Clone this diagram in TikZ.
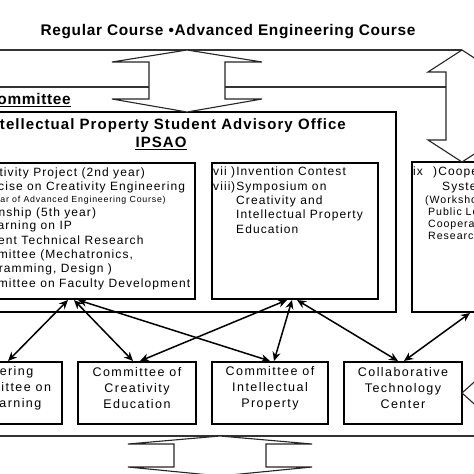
\documentclass[tikz,border=0pt]{standalone}
\usepackage{fontspec}
\setmainfont{Liberation Sans}
\newfontfamily\hdfont[LetterSpace=4.5]{Liberation Sans}
\newfontfamily\ipfont[LetterSpace=7]{Liberation Sans}
\newfontfamily\txfont[LetterSpace=9]{Liberation Sans}
\newfontfamily\bxfont[LetterSpace=11.5]{Liberation Sans}
\usetikzlibrary{arrows.meta,calc}
\tikzset{
  frameline/.style={draw=black!80,line width=1.1pt},
  boxnode/.style={draw=black,line width=1.4pt,rectangle,inner sep=0pt,outer sep=0pt},
  blockarrow/.style={draw=black!85,line width=1.1pt,fill=white,line join=miter},
  link/.style={line width=1.5pt,{Stealth[length=9pt,width=8pt]}-{Stealth[length=9pt,width=8pt]}},
  headtxt/.style={inner sep=0pt,font=\hdfont\bfseries\fontsize{15.4}{18}\selectfont},
  iptxt/.style={inner sep=0pt,font=\ipfont\bfseries\fontsize{15}{18}\selectfont},
  txt/.style={anchor=base west,inner sep=0pt,font=\txfont\fontsize{12}{14}\selectfont},
  smalltxt/.style={anchor=base west,inner sep=0pt,font=\txfont\fontsize{8.8}{10}\selectfont},
  rsmall/.style={anchor=base west,inner sep=0pt,font=\txfont\fontsize{10.6}{12}\selectfont},
  bottxt/.style={inner sep=0pt,align=center,font=\bxfont\fontsize{12.5}{16}\selectfont},
  uline/.style={line width=1.3pt}
}
\begin{document}
\begin{tikzpicture}[x=1pt,y=-1pt]
\useasboundingbox (0,0) rectangle (474,474);
\clip (0,0) rectangle (474,474);
\fill[white] (0,0) rectangle (474,474);

% frame lines
\draw[frameline] (-5,50) -- (462,50);
\draw[frameline] (-5,87) -- (149,87);
\draw[frameline] (225,87) -- (446,87);
\draw[frameline] (-5,436) -- (480,436);

% title
\node[headtxt,anchor=base] (title) at (228,35) {Regular Course •Advanced Engineering Course};

% committee label
\node[headtxt,anchor=base east] (com) at (71,104) {Steering Committee};
\draw[uline] ([yshift=-2.5pt]com.base west) -- ([yshift=-2.5pt]com.base east);

% IPSAO big box
\node[boxnode,minimum width=426pt,minimum height=200pt] (ipbox) at (183,212) {};
\node[iptxt,anchor=base east] (iptitle) at (346,129) {Intellectual Property Student Advisory Office};
\node[iptxt,anchor=base] (ipsao) at (161,147) {IPSAO};
\draw[uline] ([yshift=-2.5pt]ipsao.base west) -- ([yshift=-2.5pt]ipsao.base east);

% inner boxes
\node[boxnode,minimum width=245pt,minimum height=136pt] (lbox) at (72.5,231) {};
\node[boxnode,minimum width=166pt,minimum height=136pt] (mbox) at (295,231) {};
\node[boxnode,minimum width=130pt,minimum height=150pt] (rbox) at (477,237) {};

% left box text
\node[txt] (l1) at (-31,176) {\llap{i )}Creativity Project (2nd year)};
\node[txt] (l2) at (-31,190) {\llap{ii )}Exercise on Creativity Engineering};
\node[smalltxt] (l3) at (-31,202) {(1st year of Advanced Engineering Course)};
\node[txt] (l4) at (-31,216) {\llap{iii )}Internship (5th year)};
\node[txt] (l5) at (-31,229) {\llap{iv )}e-Learning on IP};
\node[txt] (l6) at (-31,244) {\llap{v )}Student Technical Research};
\node[txt] (l7) at (-31,258) {Committee (Mechatronics,};
\node[txt] (l8) at (-31,272) {Programming, Design )};
\node[txt] (l9) at (-31,287) {\llap{vi )}Committee on Faculty Development};

% middle box text
\node[txt] (m1n) at (213,175) {vii};
\node[txt] (m1) at (231,175) {)Invention Contest};
\node[txt] (m2n) at (213,190) {viii};
\node[txt] (m2) at (231,190) {)Symposium on};
\node[txt] (m3) at (236,204) {Creativity and};
\node[txt] (m4) at (236,218) {Intellectual Property};
\node[txt] (m5) at (236,233) {Education};

% right box text
\node[txt] (r1n) at (413,175) {ix};
\node[txt] (r1) at (433,175) {)Cooperative};
\node[txt] (r2) at (442,190) {System};
\node[rsmall] (r3) at (425,203) {(Workshop,};
\node[rsmall] (r4) at (428,215) {Public Lecture,};
\node[rsmall] (r5) at (428,227) {Cooperative};
\node[rsmall] (r6) at (428,239) {Research)};

% bottom boxes
\node[boxnode,minimum width=124pt,minimum height=62pt] (b1) at (0,393) {};
\node[boxnode,minimum width=118pt,minimum height=62pt] (b2) at (137,393) {};
\node[boxnode,minimum width=116pt,minimum height=62pt] (b3) at (270,393) {};
\node[boxnode,minimum width=118pt,minimum height=62pt] (b4) at (403,393) {};
\node[bottxt] (b1t) at (5,388) {Steering\\Committee on\\e-Learning};
\node[bottxt] (b2t) at (137,388) {Committee of\\Creativity\\Education};
\node[bottxt] (b3t) at (270,388) {Committee of\\Intellectual\\Property};
\node[bottxt] (b4t) at (403,388) {Collaborative\\Technology\\Center};

% block arrows
\draw[blockarrow] (187,50) -- (262,62) -- (225,62) -- (225,99) -- (262,99) -- (187,112)
  -- (112,99) -- (149,99) -- (149,62) -- (112,62) -- cycle;
\draw[blockarrow] (462,50) -- (496,72) -- (478,72) -- (478,140) -- (496,140) -- (462,162)
  -- (428,140) -- (446,140) -- (446,72) -- (428,72) -- cycle;
\draw[blockarrow] (220,436) -- (312,444) -- (266,444) -- (266,467) -- (312,467) -- (220,476)
  -- (128,467) -- (174,467) -- (174,444) -- (128,444) -- cycle;
\draw[blockarrow] (482,375) -- (462,393) -- (482,411);

% link end points
\coordinate (la) at (68,300);
\coordinate (lb) at (74,300);
\coordinate (lc) at (78,300);
\coordinate (ma) at (287,300);
\coordinate (mb) at (292,300);
\coordinate (mc) at (297,300);
\coordinate (ra) at (470,313);
\coordinate (t1) at (8,361);
\coordinate (t2a) at (133,361);
\coordinate (t2b) at (140,361);
\coordinate (t3a) at (270,361);
\coordinate (t3b) at (274,361);
\coordinate (t4a) at (398,361);
\coordinate (t4b) at (404,361);

\draw[link] (la) -- (t1);
\draw[link] (lb) -- (t2a);
\draw[link] (lc) -- (t3a);
\draw[link] (ma) -- (t2b);
\draw[link] (mb) -- (t3b);
\draw[link] (mc) -- (t4a);
\draw[link] (ra) -- (t4b);
\end{tikzpicture}
\end{document}
